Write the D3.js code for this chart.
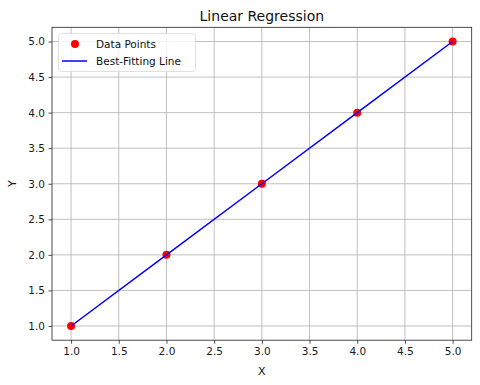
<!DOCTYPE html>
<html><head><meta charset="utf-8">
<script src="https://cdn.jsdelivr.net/npm/d3@7"></script>
<style>body{margin:0;background:#fff}svg{display:block;font-family:"DejaVu Sans",sans-serif}</style>
</head><body><svg id="c" width="480" height="385"></svg>
<script>
const xs = [1, 2, 3, 4, 5];
const ys = [1, 2, 3, 4, 5];
const lineY = [1, 2, 3, 4, 5];
const xTicks = [1.0, 1.5, 2.0, 2.5, 3.0, 3.5, 4.0, 4.5, 5.0];
const yTicks = [1.0, 1.5, 2.0, 2.5, 3.0, 3.5, 4.0, 4.5, 5.0];

const svg = d3.select("#c");
const L = 52, R = 471.7, T = 27.3, B = 340.2;
const x = d3.scaleLinear().domain([0.8, 5.2]).range([L, R]);
const y = d3.scaleLinear().domain([0.8, 5.2]).range([B, T]);

// grid
svg.append("g").selectAll("line").data(xTicks).join("line")
  .attr("x1", d => x(d)).attr("x2", d => x(d)).attr("y1", T).attr("y2", B)
  .attr("stroke", "#b0b0b0").attr("stroke-width", 0.8);
svg.append("g").selectAll("line").data(yTicks).join("line")
  .attr("y1", d => y(d)).attr("y2", d => y(d)).attr("x1", L).attr("x2", R)
  .attr("stroke", "#b0b0b0").attr("stroke-width", 0.8);

// points
svg.append("g").selectAll("circle").data(xs).join("circle")
  .attr("cx", d => x(d)).attr("cy", (d, i) => y(ys[i])).attr("r", 4)
  .attr("fill", "red");
// line
svg.append("path").datum(xs.map((d, i) => [d, lineY[i]]))
  .attr("d", d3.line().x(d => x(d[0])).y(d => y(d[1])))
  .attr("fill", "none").attr("stroke", "blue").attr("stroke-width", 1.5);

// axes
const xa = svg.append("g").attr("transform", `translate(0,${B})`)
  .call(d3.axisBottom(x).tickValues(xTicks).tickFormat(d3.format(".1f")).tickSize(3.5).tickPadding(3.5));
const ya = svg.append("g").attr("transform", `translate(${L},0)`)
  .call(d3.axisLeft(y).tickValues(yTicks).tickFormat(d3.format(".1f")).tickSize(3.5).tickPadding(3.5));
[xa, ya].forEach(a => {
  a.select(".domain").remove();
  a.selectAll("text").attr("font-size", 10.5).attr("fill", "#1a1a1a").attr("font-family", "DejaVu Sans");
  a.selectAll("line").attr("stroke", "#222").attr("stroke-width", 0.8);
});
svg.append("rect").attr("x", L).attr("y", T).attr("width", R - L).attr("height", B - T)
  .attr("fill", "none").attr("stroke", "#222").attr("stroke-width", 0.8);

// labels
svg.append("text").attr("x", (L + R) / 2).attr("y", 21).attr("text-anchor", "middle")
  .attr("font-size", 14).attr("fill", "#111").text("Linear Regression");
svg.append("text").attr("x", (L + R) / 2).attr("y", 375).attr("text-anchor", "middle")
  .attr("font-size", 11).attr("fill", "#111").text("X");
svg.append("text").attr("transform", `translate(16,${(T + B) / 2}) rotate(-90)`).attr("text-anchor", "middle")
  .attr("font-size", 11).attr("fill", "#111").text("Y");

// legend
const lg = svg.append("g");
lg.append("rect").attr("x", 58.5).attr("y", 33.5).attr("width", 137).attr("height", 38).attr("rx", 3)
  .attr("fill", "white").attr("fill-opacity", 0.8).attr("stroke", "#d8d8d8").attr("stroke-width", 0.8);
lg.append("circle").attr("cx", 75).attr("cy", 44).attr("r", 4).attr("fill", "red");
lg.append("line").attr("x1", 62).attr("x2", 87).attr("y1", 61).attr("y2", 61).attr("stroke", "blue").attr("stroke-width", 1.5);
lg.append("text").attr("x", 96).attr("y", 48).attr("font-size", 10.5).attr("fill", "#111").text("Data Points");
lg.append("text").attr("x", 96).attr("y", 65).attr("font-size", 10.5).attr("fill", "#111").text("Best-Fitting Line");
</script></body></html>
